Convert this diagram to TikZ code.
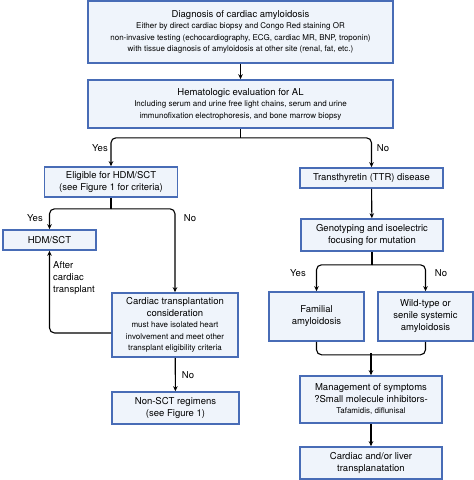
\documentclass[tikz,border=0pt]{standalone}
\usepackage{fontspec}
\setmainfont{TeX Gyre Heros}
\usetikzlibrary{arrows.meta}
\definecolor{boxline}{RGB}{72,108,182}
\definecolor{boxfill}{RGB}{239,244,251}
\newcommand{\hd}{\fontsize{9.5}{12}\selectfont}
\newcommand{\sm}{\fontsize{8}{11.5}\selectfont}

\begin{document}
\begin{tikzpicture}[x=1pt,y=-1pt,
  box/.style={draw=boxline,fill=boxfill,line width=1.6pt,inner sep=0pt,align=center,font=\sm},
  arr/.style={-{Stealth[length=5pt,width=4.5pt]},line width=1.1pt,rounded corners=5pt},
  line/.style={line width=1.1pt,rounded corners=5pt},
  lbl/.style={font=\hd}]
\useasboundingbox (0,0) rectangle (474,480);
\node[box,minimum width=305pt,minimum height=62pt] (diag) at (240.5,32) {{\hd Diagnosis of cardiac amyloidosis}\\Either by direct cardiac biopsy and Congo Red staining OR\\non-invasive testing (echocardiography, ECG, cardiac MR, BNP, troponin)\\with tissue diagnosis of amyloidosis at other site (renal, fat, etc.)};
\node[box,minimum width=305pt,minimum height=48pt] (hem) at (240.5,104) {{\hd Hematologic evaluation for AL}\\Including serum and urine free light chains, serum and urine\\immunofixation electrophoresis, and bone marrow biopsy};
\node[box,font=\hd,minimum width=133pt,minimum height=30pt] (elig) at (111,182) {Eligible for HDM/SCT\\(see Figure 1 for criteria)};
\node[box,font=\hd,minimum width=93pt,minimum height=20pt] (hdm) at (49.5,240) {HDM/SCT};
\node[box,minimum width=126pt,minimum height=64pt] (ctx) at (175,325) {{\hd Cardiac transplantation}\\{\hd consideration}\\must have isolated heart\\involvement and meet other\\transplant eligibility criteria};
\node[box,font=\hd,minimum width=127pt,minimum height=32pt] (nonsct) at (175.5,408) {Non-SCT regimens\\(see Figure 1)};
\node[box,font=\hd,minimum width=143pt,minimum height=20pt] (ttr) at (371.5,178) {Transthyretin (TTR) disease};
\node[box,font=\hd,minimum width=142pt,minimum height=32pt] (geno) at (372,235) {Genotyping and isoelectric\\focusing for mutation};
\node[box,font=\hd,minimum width=95pt,minimum height=49pt] (fam) at (316.5,316.5) {Familial\\amyloidosis};
\node[box,font=\hd,minimum width=95pt,minimum height=49pt] (wild) at (425.5,316.5) {Wild-type or\\senile systemic\\amyloidosis};
\node[box,minimum width=142pt,minimum height=47pt] (mgmt) at (371,399.5) {{\hd Management of symptoms}\\{\hd ?Small molecule inhibitors-}\\Tafamidis, diflunisal};
\node[box,font=\hd,minimum width=142pt,minimum height=32pt] (liver) at (371,463) {Cardiac and/or liver\\transplanatation};

\coordinate (s1) at ([yshift=-9pt]hem.south);
\coordinate (s2) at ([yshift=-11pt]elig.south);
\coordinate (s3) at ([yshift=-13pt]geno.south);
\draw[arr] (diag) -- (hem);
\draw[line] (hem.south) -- (s1);
\draw[arr] (s1) -| (elig.north);
\draw[arr] (s1) -| (ttr.north);
\draw[line] (elig.south) -- (s2);
\draw[arr] (s2) -| (hdm.north);
\draw[arr] (s2) -| (ctx.north);
\draw[arr] ([yshift=-8pt]ctx.west) -| (hdm.south);
\draw[arr] (ctx) -- (nonsct);
\draw[arr] (ttr) -- (geno);
\draw[line] (geno.south) -- (s3);
\draw[arr] (s3) -| (fam.north);
\draw[arr] (s3) -| (wild.north);
\draw[line] (fam.south) -- ++(0,13) -| (wild.south);
\draw[arr] ([yshift=22pt]mgmt.north) -- (mgmt.north);
\draw[arr] (mgmt) -- (liver);

\node[lbl] (yes1) at (100,148) {Yes};
\node[lbl] (no1) at (383,148) {No};
\node[lbl] (yes2) at (35,218) {Yes};
\node[lbl] (no2) at (190,218) {No};
\node[lbl,align=left,anchor=north west,inner sep=0pt] (after) at (53,261) {After\\cardiac\\transplant};
\node[lbl] (no3) at (188,375) {No};
\node[lbl] (yes3) at (298,273) {Yes};
\node[lbl] (no4) at (441,273) {No};
\end{tikzpicture}
\end{document}
